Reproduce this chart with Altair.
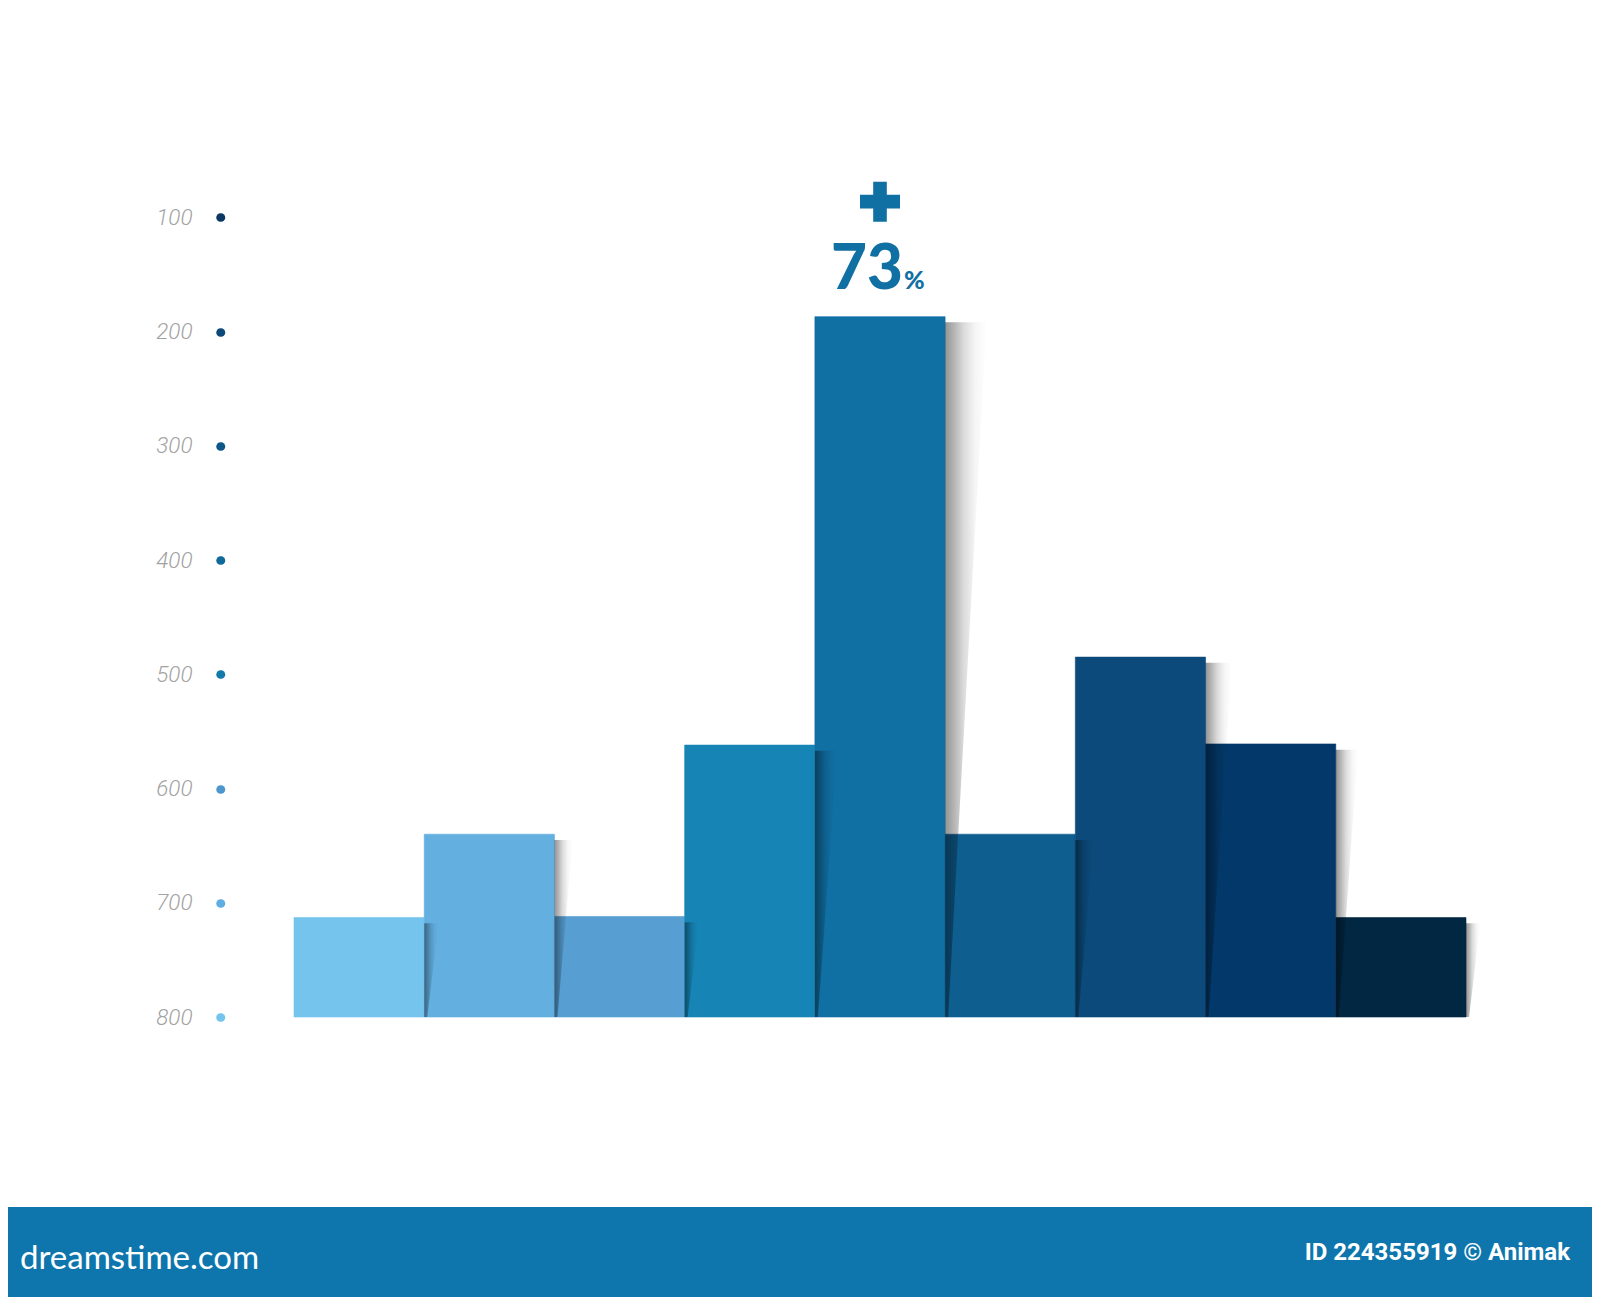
import altair as alt
import pandas as pd

# ---- data ----
bar_values = [713, 640, 712, 562, 187, 640, 485, 561, 713]   # bar tops on the 100..800 scale (800 = baseline)
bar_colors = ["#74c4ee", "#62afe0", "#579ed2", "#1685b6", "#106fa3",
              "#0e5e90", "#0b4a7a", "#03396a", "#022743"]
tick_values = [100, 200, 300, 400, 500, 600, 700, 800]
tick_colors = ["#0a3763", "#0c4879", "#0d5889", "#0f6999",
               "#137aac", "#4d97cf", "#5eaee2", "#74c4ee"]
baseline_value = 800
peak_label = "73"
peak_unit = "%"
footer_left = "dreamstime.com"
footer_right = "ID 224355919 \u00a9 Animak"

# ---- layout / style constants ----
PLOT_W, PLOT_H = 1172, 914
n = len(bar_values)
px_per_x = PLOT_W / n
px_per_y = PLOT_H / baseline_value

# ---- tables built from the arrays ----
bars_df = pd.DataFrame({
    "start": list(range(n)),
    "end": [i + 1 for i in range(n)],
    "top": bar_values,
    "base": [baseline_value] * n,
    "color": bar_colors,
})

shadow_rows = []
for i, v in enumerate(bar_values):
    h_px = (baseline_value - v) * px_per_y
    top_w = (10 + 0.045 * h_px) / px_per_x
    bot_w = 3 / px_per_x
    shadow_rows.append({"sid": i, "sy": v + 5, "sx": i + 1, "sx2": i + 1 + top_w})
    shadow_rows.append({"sid": i, "sy": baseline_value, "sx": i + 1, "sx2": i + 1 + bot_w})
shadow_df = pd.DataFrame(shadow_rows)

peak_i = max(range(n), key=lambda k: -bar_values[k])
peak_df = pd.DataFrame({"cx": [peak_i + 0.5], "top": [bar_values[peak_i]],
                        "label": [peak_label], "unit": [peak_unit]})
peak_color = bar_colors[peak_i]

footer_df = pd.DataFrame({"left": [footer_left], "right": [footer_right]})

xscale = alt.Scale(domain=[0, n])
yscale = alt.Scale(domain=[0, baseline_value], reverse=True)

tick_cond = [{"test": f"datum.value === {v}", "value": c}
             for v, c in zip(tick_values, tick_colors)]

yaxis = alt.Axis(
    values=tick_values, title=None, grid=False, domain=False,
    offset=73.5, tickSize=0.5, tickWidth=8.5, tickCap="round",
    tickColor={"condition": tick_cond, "value": tick_colors[-1]},
    labelPadding=28, labelFont="Roboto", labelFontStyle="italic",
    labelFontWeight=300, labelFontSize=22.5, labelColor="#a2a2a2",
)

shadow_grad = alt.Gradient(
    gradient="linear",
    stops=[alt.GradientStop(color="rgba(0,0,0,0.42)", offset=0),
           alt.GradientStop(color="rgba(0,0,0,0.30)", offset=0.2),
           alt.GradientStop(color="rgba(0,0,0,0.14)", offset=0.45),
           alt.GradientStop(color="rgba(0,0,0,0.04)", offset=0.72),
           alt.GradientStop(color="rgba(0,0,0,0)", offset=1)],
    x1=0, x2=1, y1=0, y2=0,
)

bars = alt.Chart(bars_df).mark_rect(strokeWidth=0.6).encode(
    x=alt.X("start:Q", scale=xscale, axis=None),
    x2="end:Q",
    y=alt.Y("top:Q", scale=yscale, axis=yaxis),
    y2="base:Q",
    color=alt.Color("color:N", scale=None),
    stroke=alt.Stroke("color:N", scale=None),
)

shadows = alt.Chart(shadow_df).mark_area(orient="horizontal", color=shadow_grad).encode(
    y=alt.Y("sy:Q", scale=yscale),
    x=alt.X("sx:Q", scale=xscale, axis=None, stack=False),
    x2="sx2:Q",
    detail="sid:N",
)

plus = alt.Chart(peak_df).mark_point(
    shape="M-1,-0.34H-0.34V-1H0.34V-0.34H1V0.34H0.34V1H-0.34V0.34H-1Z",
    size=1600, filled=True, opacity=1, color=peak_color, strokeWidth=0,
).encode(
    x=alt.X("cx:Q", scale=xscale, axis=None),
    y=alt.Y("top:Q", scale=yscale),
    yOffset=alt.value(-115),
)

num = alt.Chart(peak_df).mark_text(
    font="Lato", fontWeight=900, fontSize=62, color=peak_color,
    align="right", baseline="alphabetic", dx=23, dy=-28,
).encode(
    x=alt.X("cx:Q", scale=xscale, axis=None),
    y=alt.Y("top:Q", scale=yscale),
    text="label:N",
)

unit = alt.Chart(peak_df).mark_text(
    font="Lato", fontWeight=900, fontSize=25, color=peak_color,
    align="left", baseline="alphabetic", dx=24, dy=-28,
).encode(
    x=alt.X("cx:Q", scale=xscale, axis=None),
    y=alt.Y("top:Q", scale=yscale),
    text="unit:N",
)

footer_bar = alt.Chart(footer_df).mark_rect(color="#0e76ad").encode(
    x=alt.value(-286), x2=alt.value(1298), y=alt.value(1104), y2=alt.value(1200),
)
footer_l = alt.Chart(footer_df).mark_text(
    font="Lato", fontSize=33, fontWeight=400, color="white",
    align="left", baseline="alphabetic",
).encode(x=alt.value(-274), y=alt.value(1166), text="left:N")
footer_r = alt.Chart(footer_df).mark_text(
    font="Roboto", fontSize=24, fontWeight="bold", color="white",
    align="right", baseline="alphabetic",
).encode(x=alt.value(1276), y=alt.value(1157), text="right:N")

chart = alt.layer(bars, shadows, plus, num, unit, footer_bar, footer_l, footer_r).properties(
    width=PLOT_W, height=PLOT_H,
    padding={"left": 286, "top": 95, "right": 126, "bottom": 280},
    autosize="none",
    background="white",
).configure_view(stroke=None)

chart.save("out.html", embed_options={"renderer": "svg", "actions": False})
